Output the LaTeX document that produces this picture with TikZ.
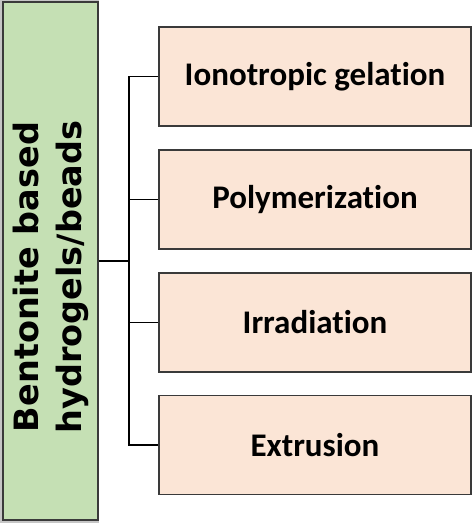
\documentclass[tikz,border=0pt]{standalone}
\usepackage{fontspec}
\setmainfont{Carlito}[RawFeature={-liga;-dlig}]
\newfontfamily\leftfont{DejaVu Sans}
\definecolor{srcgreen}{HTML}{C5E0B4}
\definecolor{boxpeach}{HTML}{FBE5D6}
\definecolor{edgegray}{HTML}{3A3A3A}
\begin{document}
\begin{tikzpicture}[x=1pt,y=-1pt,
  srcbox/.style={draw=edgegray,line width=1.3pt,fill=srcgreen,minimum width=95pt,minimum height=518pt,inner sep=0pt},
  srctxt/.style={rotate=90,align=center,font=\leftfont\bfseries\fontsize{33.5}{43}\selectfont,inner sep=0pt},
  methbox/.style={draw=edgegray,line width=1.3pt,fill=boxpeach,minimum width=312pt,minimum height=99pt,inner sep=0pt,font=\bfseries\fontsize{33}{38}\selectfont},
  conn/.style={draw=black,line width=1.3pt}]
\useasboundingbox (0,0) rectangle (474,523);
\fill[gray!45] (0,0) rectangle (99,523);
\node[srcbox] (src) at (50.5,261) {};
\node[srctxt] (srclabel) at (51,277) {Bentonite based\\hydrogels/beads};
\node[methbox] (b1) at (315,76.5) {Ionotropic gelation};
\node[methbox] (b2) at (315,199.5) {Polymerization};
\node[methbox] (b3) at (315,322.5) {Irradiation};
\node[methbox] (b4) at (315,445) {Extrusion};
\coordinate (j) at (129,261);
\draw[conn] (src.east |- j) -- (j);
\foreach \b in {b1,b2,b3,b4}{\draw[conn] (j) |- (\b.west);}
\end{tikzpicture}
\end{document}
